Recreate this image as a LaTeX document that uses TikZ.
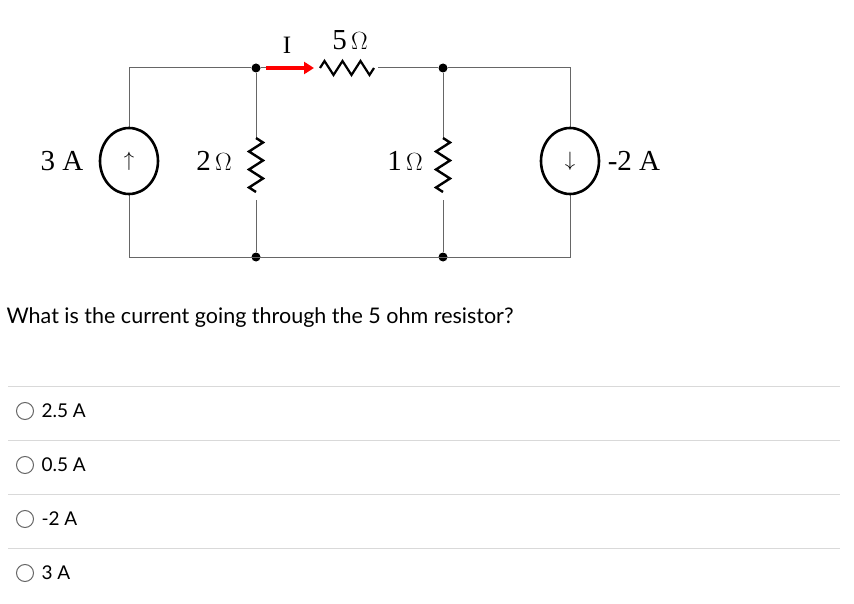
\documentclass[tikz,border=0pt]{standalone}
\usepackage{fontspec}
\setmainfont{Liberation Serif}
\newfontfamily\lato{Lato}
\usetikzlibrary{decorations.pathmorphing,arrows.meta,shapes.geometric}

\tikzset{
  wire/.style={draw=gray!80!black,line width=1pt},
  res/.style={line width=2.4pt,line join=miter,decorate,decoration={zigzag,segment length=18pt,amplitude=7pt}},
  src/.style={draw,line width=2.6pt,ellipse,minimum width=58pt,minimum height=66pt,inner sep=0pt,fill=white},
  dot/.style={circle,fill,inner sep=0pt,minimum size=9pt},
  lbl/.style={font=\fontsize{29}{30}\selectfont},
  choice/.style={font=\lato\fontsize{19}{22}\selectfont,anchor=west},
  radio/.style={circle,draw=gray!80!black,line width=1pt,minimum size=17pt,inner sep=0pt},
  sep/.style={draw=gray!30,line width=1pt}
}

\begin{document}
\begin{tikzpicture}[x=1pt,y=-1pt]
   \useasboundingbox (0,0) rectangle (854,604);
   % nodes of the circuit
   \coordinate (tl) at (129,68);  \coordinate (bl) at (129,257);
   \node[dot] (ta) at (256,68) {};   \node[dot] (ba) at (256,257) {};
   \node[dot] (tb) at (443,68) {};   \node[dot] (bb) at (443,257) {};
   \coordinate (tr) at (570,68);  \coordinate (br) at (570,257);
   % wires
   \draw[wire] (tl) -- (ta) (tb) -- (tr) -- (br) -- (bl) -- (tl);
   \draw[wire] (ta) -- (ba) (tb) -- (bb);
   \draw[wire] (ta) -- (tb);
   % resistors
   \coordinate (r5a) at (320,68); \coordinate (r5b) at (374,68);
   \fill[white] (300,55) rectangle (378,81);
   \draw[res,line width=2.2pt] (r5a) -- (r5b);
   \fill[white] (240,140) rectangle (272,200) (427,140) rectangle (459,200);
   \coordinate (r2a) at (256,138); \coordinate (r2b) at (256,192);
   \coordinate (r1a) at (443,138); \coordinate (r1b) at (443,192);
   \draw[res] (r2a) -- (r2b);
   \draw[res] (r1a) -- (r1b);
   % current arrow
   \coordinate (ia) at (266,68); \coordinate (ib) at (314,68);
   \draw[red,line width=3.5pt,-{Triangle[length=10pt,width=12pt]}] (ia) -- (ib);
   % sources
   \node[src] (s3) at (129,161) {\fontsize{22}{22}\selectfont$\uparrow$};
   \node[src] (s2) at (570,161) {\fontsize{22}{22}\selectfont$\downarrow$};
   % labels
   \node[lbl] (l3) at (62,161) {3 A};
   \node[lbl] (l2) at (634,161) {-2 A};
   \node[lbl] (lr2) at (214,161) {2$\,\Omega$};
   \node[lbl] (lr1) at (405,161) {1$\,\Omega$};
   \node[lbl] (lr5) at (350,40) {5$\,\Omega$};
   \node[lbl,font=\fontsize{25}{26}\selectfont] (li) at (287,45) {I};
   % question
   \node[choice,font=\lato\fontsize{21.5}{24}\selectfont] (q) at (3,318) {What is the current going through the 5 ohm resistor?};
   \foreach \y/\t [count=\i] in {411/2.5 A,465/0.5 A,519/-2 A,573/3 A} {
     \draw[sep] (8,\y-25) -- (840,\y-25);
     \node[radio] (c\i) at (25,\y) {};
     \node[choice] (t\i) at (38,\y) {\t};
   }
\end{tikzpicture}
\end{document}
